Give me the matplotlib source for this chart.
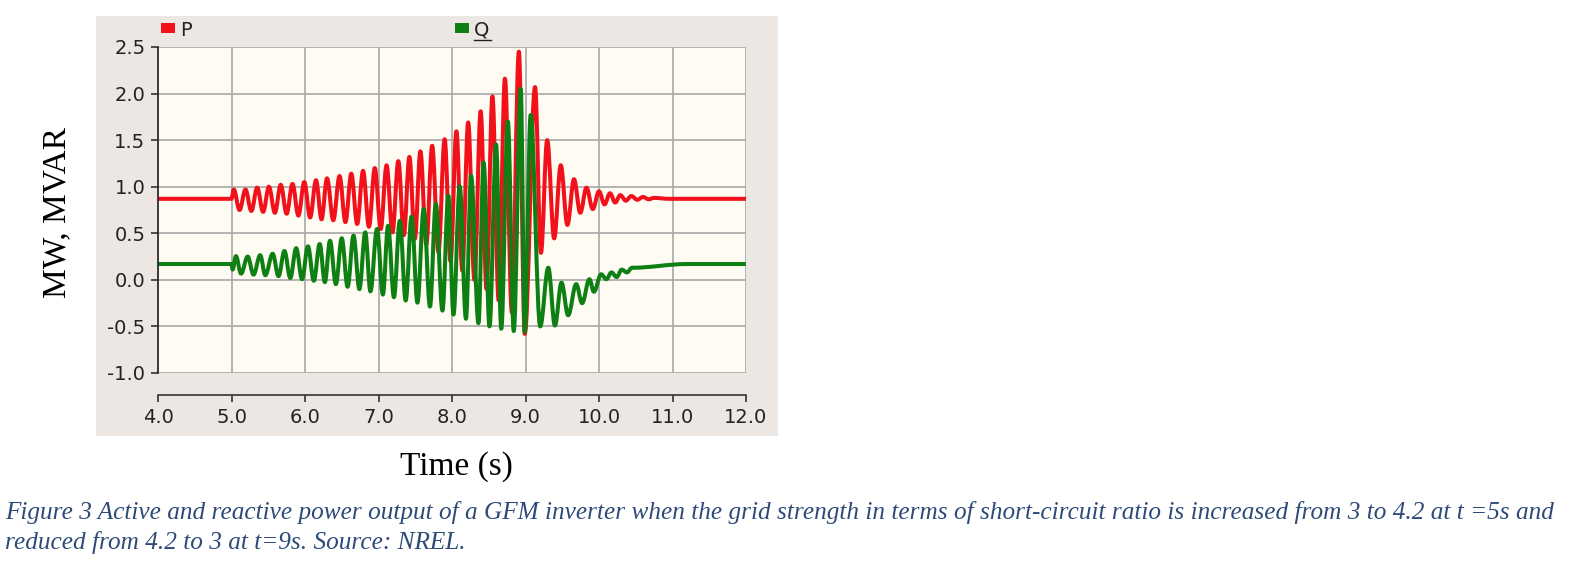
"""
GFM inverter active / reactive power response to a short-circuit-ratio step (NREL figure).
"""
import matplotlib
matplotlib.use("Agg")
import matplotlib.pyplot as plt
from matplotlib.path import Path
from matplotlib.patches import PathPatch, Rectangle
from matplotlib.lines import Line2D

# Extrema of the traces: time (s), value (MW / MVAR)
P_TIME = [4.00, 5.00, 5.03, 5.11, 5.19, 5.27, 5.35, 5.43, 5.51, 5.59, 5.67, 5.75,
          5.83, 5.91, 5.99, 6.07, 6.15, 6.225, 6.30, 6.385, 6.47, 6.55, 6.63, 6.71,
          6.79, 6.87, 6.95, 7.03, 7.11, 7.19, 7.27, 7.345, 7.42, 7.495, 7.57, 7.65,
          7.73, 7.815, 7.90, 7.98, 8.06, 8.14, 8.22, 8.305, 8.39, 8.47, 8.55, 8.635,
          8.72, 8.815, 8.91, 8.99, 9.13, 9.21, 9.295, 9.39, 9.48, 9.57, 9.66, 9.745,
          9.83, 9.915, 10.00, 10.075, 10.15, 10.22, 10.29, 10.365, 10.44, 10.52,
          10.60, 10.675, 10.75, 10.95, 12.00]
P_VALUE = [0.87, 0.87, 0.97, 0.75, 0.97, 0.74, 0.99, 0.73, 1.00, 0.72, 1.02, 0.71,
           1.03, 0.69, 1.05, 0.67, 1.07, 0.65, 1.09, 0.64, 1.115, 0.62, 1.14, 0.60,
           1.17, 0.57, 1.20, 0.545, 1.23, 0.51, 1.275, 0.48, 1.32, 0.44, 1.38, 0.38,
           1.44, 0.30, 1.51, 0.20, 1.595, 0.10, 1.69, 0.00, 1.81, -0.10, 1.97, -0.22,
           2.16, -0.35, 2.45, -0.58, 2.07, 0.29, 1.50, 0.445, 1.23, 0.59, 1.08, 0.72,
           0.99, 0.76, 0.95, 0.81, 0.93, 0.83, 0.91, 0.85, 0.90, 0.86,
           0.89, 0.865, 0.88, 0.87, 0.87]

Q_TIME = [4.00, 5.00, 5.015, 5.06, 5.13, 5.22, 5.30, 5.39, 5.46, 5.56, 5.64, 5.72,
          5.80, 5.88, 5.96, 6.04, 6.12, 6.20, 6.27, 6.34, 6.42, 6.50, 6.58, 6.66,
          6.74, 6.82, 6.89, 6.98, 7.06, 7.13, 7.21, 7.29, 7.37, 7.45, 7.53, 7.615,
          7.70, 7.78, 7.87, 7.95, 8.02, 8.105, 8.19, 8.26, 8.36, 8.43, 8.51, 8.60,
          8.67, 8.76, 8.84, 8.935, 8.99, 9.07, 9.20, 9.31, 9.40, 9.49, 9.58, 9.69,
          9.77, 9.87, 9.93, 10.03, 10.10, 10.17, 10.24, 10.31, 10.38, 10.45,
          11.20, 12.00]
Q_VALUE = [0.17, 0.17, 0.11, 0.255, 0.067, 0.25, 0.056, 0.265, 0.05, 0.28, 0.04, 0.31,
           0.02, 0.34, 0.007, 0.36, -0.01, 0.385, -0.025, 0.42, -0.046, 0.447, -0.074, 0.475,
           -0.10, 0.51, -0.123, 0.546, -0.158, 0.58, -0.187, 0.634, -0.222, 0.68, -0.245, 0.762,
           -0.287, 0.816, -0.33, 0.904, -0.372, 1.004, -0.418, 1.117, -0.465, 1.259, -0.50, 1.454,
           -0.525, 1.70, -0.55, 2.05, -0.56, 1.77, -0.50, 0.13, -0.49, -0.03, -0.38, -0.046,
           -0.25, 0.007, -0.128, 0.06, 0.007, 0.08, 0.03, 0.11, 0.08, 0.13,
           0.17, 0.17]

X_TICKS = [4.0, 5.0, 6.0, 7.0, 8.0, 9.0, 10.0, 11.0, 12.0]
Y_TICKS = [-1.0, -0.5, 0.0, 0.5, 1.0, 1.5, 2.0, 2.5]
SERIES = ["P", "Q"]
CAPTION = [
    "Figure 3 Active and reactive power output of a GFM inverter when the grid strength "
    "in terms of short-circuit ratio is increased from 3 to 4.2 at t =5s and",
    "reduced from 4.2 to 3 at t=9s. Source: NREL.",
]

P_COLOR = "#f2101a"
Q_COLOR = "#0e7f12"
CAPTION_COLOR = "#2d4a78"

W, H = 1569, 573


def smooth_path(times, values, k=0.36):
    """Cubic Bezier through the extrema, flat tangent at each one."""
    verts = [(times[0], values[0])]
    codes = [Path.MOVETO]
    for i in range(1, len(times)):
        t0, v0, t1, v1 = times[i - 1], values[i - 1], times[i], values[i]
        dt = t1 - t0
        verts += [(t0 + k * dt, v0), (t1 - k * dt, v1), (t1, v1)]
        codes += [Path.CURVE4] * 3
    return Path(verts, codes)


fig = plt.figure(figsize=(W / 100, H / 100), dpi=100)
fig.patch.set_facecolor("white")

# grey panel behind the chart
fig.add_artist(Rectangle((96 / W, 1 - 436 / H), 682 / W, 420 / H,
                         transform=fig.transFigure, facecolor="#ece7e2",
                         edgecolor="none", zorder=-1))

ax = fig.add_axes([158 / W, 1 - 373 / H, 588 / W, 326 / H])
ax.set_facecolor("#fdfbf2")

for times, values, color in [(P_TIME, P_VALUE, P_COLOR), (Q_TIME, Q_VALUE, Q_COLOR)]:
    ax.add_patch(PathPatch(smooth_path(times, values), facecolor="none",
                           edgecolor=color, lw=2.9, capstyle="round", joinstyle="round"))

ax.set_xlim(4, 12)
ax.set_ylim(-1, 2.5)
ax.set_xticks(X_TICKS)
ax.set_xticklabels([f"{t:.1f}" for t in X_TICKS])
ax.set_yticks(Y_TICKS)
ax.set_yticklabels([f"{t:.1f}" for t in Y_TICKS])
ax.grid(True, color="#a8a8a8", lw=1.2)
ax.set_axisbelow(True)

for side in ["top", "right"]:
    ax.spines[side].set_visible(False)
ax.spines["left"].set_color("#222222")
ax.spines["left"].set_linewidth(1.2)
ax.spines["bottom"].set_position(("outward", 16))
ax.spines["bottom"].set_color("#333333")
ax.spines["bottom"].set_linewidth(1.2)
ax.tick_params(axis="both", direction="out", length=5, width=1.1, colors="#222222",
               labelsize=14, pad=4)
ax.tick_params(axis="x", pad=4)

# legend strip along the top of the panel
for name, color, x in zip(SERIES, [P_COLOR, Q_COLOR], [161, 455]):
    fig.add_artist(Rectangle((x / W, 1 - 33 / H), 14 / W, 10 / H,
                             transform=fig.transFigure, facecolor=color, edgecolor="none"))
    fig.text((x + 19) / W, 1 - 30 / H, name, fontsize=14, color="#222222",
             va="center", ha="left")
fig.add_artist(Line2D([474 / W, 491 / W], [1 - 40 / H, 1 - 40 / H],
                      transform=fig.transFigure, color="#222222", lw=1))

fig.text(57 / W, 1 - 212 / H, "MW, MVAR", rotation=90, family="Liberation Serif",
         fontsize=24, ha="center", va="center")
fig.text(456 / W, 1 - 467 / H, "Time (s)", family="Liberation Serif",
         fontsize=24, ha="center", va="center")

for line, y in zip(CAPTION, [512, 542]):
    fig.text(5 / W, 1 - y / H, line, family="Liberation Serif", style="italic",
             fontsize=18.2, color=CAPTION_COLOR, ha="left", va="center")

fig.savefig("out.png", dpi=100)
